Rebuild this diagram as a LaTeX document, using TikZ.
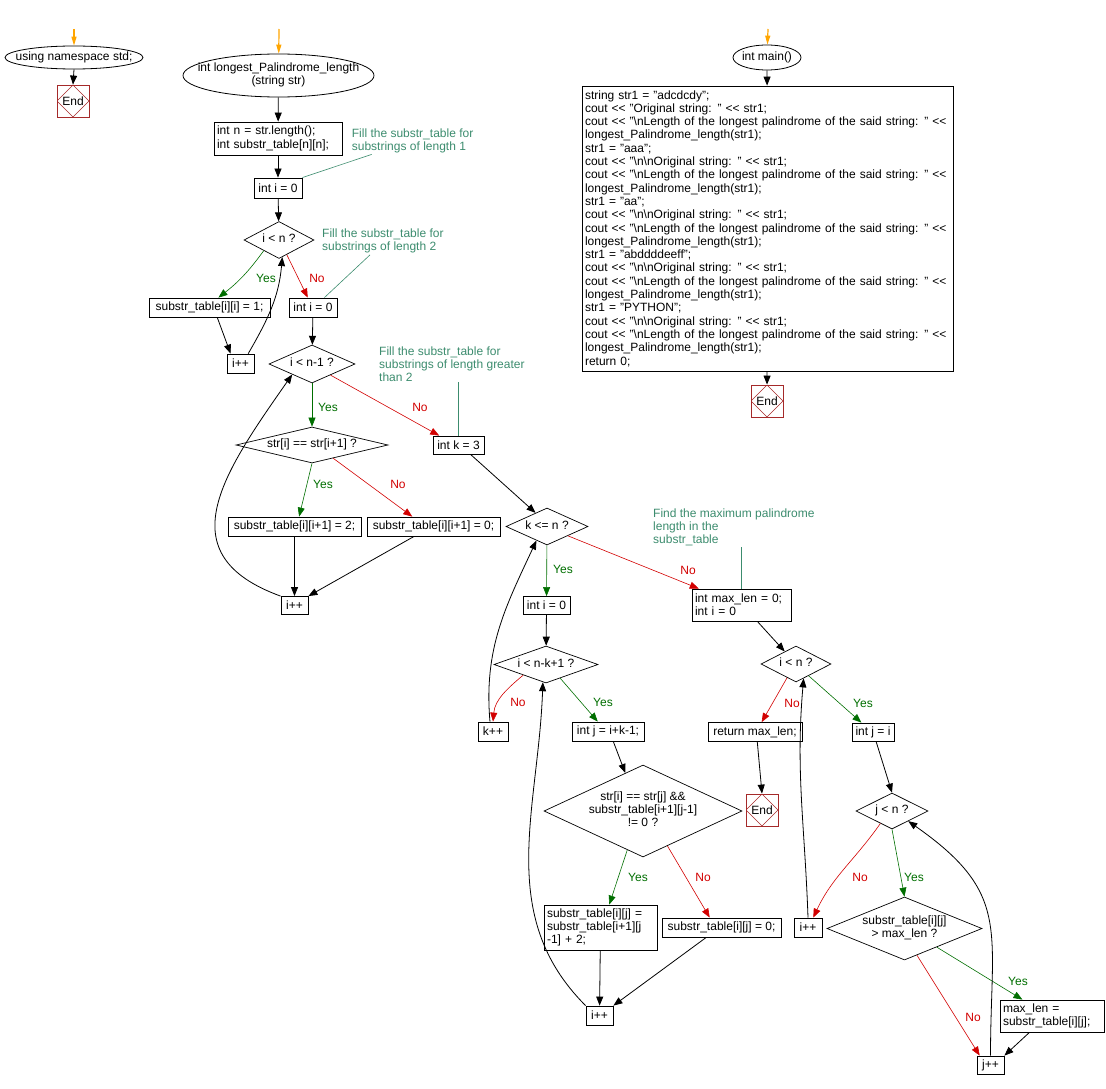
\documentclass[tikz,border=0pt]{standalone}
\usepackage{fontspec}
\setmainfont{Liberation Sans}
\usetikzlibrary{arrows.meta}
\usetikzlibrary{shapes.geometric}

\definecolor{yescol}{RGB}{0,110,0}
\definecolor{nocol}{RGB}{210,0,0}
\definecolor{notecol}{RGB}{60,140,110}
\definecolor{endcol}{RGB}{165,42,42}
\definecolor{entrycol}{RGB}{255,165,0}

\newcommand\flowfont{\fontsize{12}{13.3}\selectfont}
\newcommand\centred[1]{\makebox[0pt]{\begin{tabular}{@{}c@{}}#1\end{tabular}}}
\newcommand\shl{<\kern0pt<}

\begin{document}
\begin{tikzpicture}[x=1pt,y=1pt,
    every node/.style={font=\flowfont},
    box/.style={draw, rectangle, inner sep=0pt, line width=0.8pt, minimum height=19pt},
    textbox/.style={box, inner xsep=3pt, align=left},
    decision/.style={draw, diamond, inner sep=0pt, line width=0.7pt},
    terminal/.style={draw, ellipse, inner sep=0pt, line width=0.8pt},
    endbox/.style={draw=endcol, rectangle, line width=0.8pt, minimum size=32pt, inner sep=0pt,
        path picture={\draw[endcol, line width=0.6pt] (path picture bounding box.north) -- (path picture bounding box.east)
            -- (path picture bounding box.south) -- (path picture bounding box.west) -- cycle;}},
    flow/.style={draw, line width=0.8pt, -{Triangle[length=9pt,width=7pt]}},
    yes/.style={draw=yescol, line width=0.6pt, -{Triangle[length=9pt,width=7pt]}, color=yescol},
    no/.style={draw=nocol, line width=0.6pt, -{Triangle[length=9pt,width=7pt]}, color=nocol},
    entry/.style={draw=entrycol, line width=1.2pt, -{Triangle[length=9pt,width=5pt]}, color=entrycol},
    note/.style={text=notecol, align=left, inner sep=0pt},
    notelink/.style={draw=notecol, line width=0.6pt},
    ylab/.style={text=yescol, inner sep=0pt},
    nlab/.style={text=nocol, inner sep=0pt}]
\useasboundingbox (0,0) rectangle (1106,-1089);

% using namespace
\node[terminal, minimum width=138pt, minimum height=23pt] (ns) at (74,-57.5) {\centred{using namespace std;}};
\node[endbox] (e1) at (73,-101) {End};
\coordinate (s1) at (74,-29);

% longest_Palindrome_length
\node[terminal, minimum width=191pt, minimum height=43pt] (fn) at (278.5,-75.5) {\centred{int longest\_Palindrome\_length\\(string str)}};
\coordinate (s2) at (279,-29);
\node[textbox, text width=122pt, minimum height=33pt] (b1) at (278,-138.5) {int n = str.length();\\int substr\_table[n][n];};
\node[box, minimum width=48pt, minimum height=20pt] (b2) at (278,-188) {int i = 0};
\node[decision, minimum width=70pt, minimum height=37pt] (d1) at (279,-240) {\centred{i < n ?}};
\node[box, minimum width=121pt] (b3) at (209.5,-307.5) {substr\_table[i][i] = 1;};
\node[box, minimum width=27pt] (b4) at (240.5,-363.5) {i++};
\node[box, minimum width=48pt] (b5) at (313,-307.5) {int i = 0};
\node[decision, minimum width=86pt, minimum height=38pt] (d2) at (312,-364) {\centred{i < n-1 ?}};
\node[decision, minimum width=152pt, minimum height=36pt] (d3) at (312,-445) {\centred{str[i] == str[i+1] ?}};
\node[box, minimum width=133pt] (b6) at (294.5,-526.5) {substr\_table[i][i+1] = 2;};
\node[box, minimum width=133pt] (b7) at (433.5,-526.5) {substr\_table[i][i+1] = 0;};
\node[box, minimum width=27pt, minimum height=18pt] (b8) at (294.5,-605.5) {i++};
\node[box, minimum width=51pt, minimum height=18pt] (b9) at (458.5,-445) {int k = 3};
\node[decision, minimum width=82pt, minimum height=37pt] (d4) at (547,-526.5) {\centred{k <= n ?}};
\node[box, minimum width=47pt, minimum height=18pt] (b10) at (546.5,-605.5) {int i = 0};
\node[decision, minimum width=104pt, minimum height=37pt] (d5) at (546,-664.5) {\centred{i < n-k+1 ?}};
\node[box, minimum width=30pt] (b11) at (493,-731.5) {k++};
\node[box, minimum width=72pt] (b12) at (608,-731.5) {int j = i+k-1;};
\node[decision, minimum width=198pt, minimum height=92pt] (d6) at (643,-811) {\centred{str[i] == str[j] \&\&\\substr\_table[i+1][j-1]\\!= 0 ?}};
\node[textbox, text width=107pt, minimum height=45pt] (b13) at (600.5,-927.5) {substr\_table[i][j] =\\substr\_table[i+1][j\\-1] + 2;};
\node[box, minimum width=119pt] (b14) at (721.5,-927.5) {substr\_table[i][j] = 0;};
\node[box, minimum width=27pt] (b15) at (599.5,-1015.5) {i++};
\node[textbox, text width=93pt, minimum height=32pt] (b16) at (741.5,-605) {int max\_len = 0;\\int i = 0};
\node[decision, minimum width=70pt, minimum height=36pt] (d7) at (796,-664) {\centred{i < n ?}};
\node[box, minimum width=94pt] (b17) at (755,-732) {return max\_len;};
\node[endbox] (e2) at (762,-810) {End};
\node[box, minimum width=42pt, minimum height=18pt] (b18) at (873,-732) {int j = i};
\node[decision, minimum width=72pt, minimum height=36pt] (d8) at (892,-811) {\centred{j < n ?}};
\node[box, minimum width=28pt] (b19) at (808,-927.5) {i++};
\node[decision, minimum width=155pt, minimum height=63pt] (d9) at (904.5,-928.5) {\centred{substr\_table[i][j]\\> max\_len ?}};
\node[textbox, text width=98pt, minimum height=32pt] (b20) at (1052,-1016) {max\_len =\\substr\_table[i][j];};
\node[box, minimum width=27pt, minimum height=18pt] (b21) at (990.5,-1065) {j++};

% main
\node[terminal, minimum width=68pt, minimum height=25pt] (mn) at (767,-57.5) {\centred{int main()}};
\coordinate (s3) at (768,-29);
\node[textbox, text width=365pt, minimum height=285pt] (b22) at (767.5,-228.5) {string str1 = "adcdcdy";\\
cout \shl{} "Original string: " \shl{} str1;\\
cout \shl{} "\textbackslash nLength of the longest palindrome of the said string: " \shl\\
longest\_Palindrome\_length(str1);\\
str1 = "aaa";\\
cout \shl{} "\textbackslash n\textbackslash nOriginal string: " \shl{} str1;\\
cout \shl{} "\textbackslash nLength of the longest palindrome of the said string: " \shl\\
longest\_Palindrome\_length(str1);\\
str1 = "aa";\\
cout \shl{} "\textbackslash n\textbackslash nOriginal string: " \shl{} str1;\\
cout \shl{} "\textbackslash nLength of the longest palindrome of the said string: " \shl\\
longest\_Palindrome\_length(str1);\\
str1 = "abddddeeff";\\
cout \shl{} "\textbackslash n\textbackslash nOriginal string: " \shl{} str1;\\
cout \shl{} "\textbackslash nLength of the longest palindrome of the said string: " \shl\\
longest\_Palindrome\_length(str1);\\
str1 = "PYTHON";\\
cout \shl{} "\textbackslash n\textbackslash nOriginal string: " \shl{} str1;\\
cout \shl{} "\textbackslash nLength of the longest palindrome of the said string: " \shl\\
longest\_Palindrome\_length(str1);\\
return 0;};
\node[endbox] (e3) at (767,-401) {End};

% comments
\node[note, anchor=north west] (c1) at (351.7,-128.5) {Fill the substr\_table for\\substrings of length 1};
\node[note, anchor=north west] (c2) at (322,-228.5) {Fill the substr\_table for\\substrings of length 2};
\node[note, anchor=north west] (c3) at (379,-346.5) {Fill the substr\_table for\\substrings of length greater\\than 2};
\node[note, anchor=north west] (c4) at (653,-508.5) {Find the maximum palindrome\\length in the\\substr\_table};

% yes / no labels
\node[ylab] (y1) at (266,-278) {Yes};
\node[nlab] (n1) at (317,-278) {No};
\node[ylab] (y2) at (328,-407) {Yes};
\node[nlab] (n2) at (420,-407) {No};
\node[ylab] (y3) at (323,-484) {Yes};
\node[nlab] (n3) at (398,-484) {No};
\node[ylab] (y4) at (563,-569) {Yes};
\node[nlab] (n4) at (688,-570) {No};
\node[nlab] (n5) at (518,-702) {No};
\node[ylab] (y5) at (603,-702) {Yes};
\node[nlab] (n7) at (792,-703) {No};
\node[ylab] (y7) at (863,-703) {Yes};
\node[ylab] (y6) at (638,-877) {Yes};
\node[nlab] (n6) at (703,-877) {No};
\node[nlab] (n8) at (860,-877) {No};
\node[ylab] (y8) at (914,-877) {Yes};
\node[ylab] (y9) at (1018,-981) {Yes};
\node[nlab] (n9) at (973,-1017) {No};

% connectors
\draw[entry] (s1) -- (ns);
\draw[entry] (s2) -- (fn);
\draw[entry] (s3) -- (mn);
\draw[flow] (ns.south) -- (e1.north);
\draw[flow] (fn) -- (b1);
\draw[flow] (b1) -- (b2);
\draw[flow] (b2) -- (d1);
\draw[yes] (d1.-145) to[bend left=8] (b3.48);
\draw[no] (d1.-62) -- (b5.118);
\draw[flow] (b3.-52) -- (b4.135);
\draw[flow] (b4.52) to[out=60,in=-95] (d1.-79);
\draw[flow] (b5) -- (d2);
\draw[yes] (d2) -- (d3);
\draw[no] (d2.-31) -- (b9.154);
\draw[yes] (d3.south) -- (b6.65);
\draw[no] (d3.-32) -- (b7.155);
\draw[flow] (b6) -- (b8);
\draw[flow] (b7.-153) -- (b8.north east);
\draw[flow] (b8.north west) to[out=160,in=-125,looseness=1.4] (d2.-152);
\draw[flow] (b9.-38) -- (d4.130);
\draw[yes] (d4) -- (b10);
\draw[no] (d4.-24) -- (b16.159);
\draw[flow] (b10) -- (d5);
\draw[no] (d5.-155) to[out=-140,in=85] (b11.north);
\draw[yes] (d5.-44) -- (b12.136);
\draw[flow] (b11.107) to[out=95,in=-115] (d4.-127);
\draw[flow] (b12.-62) -- (d6.115);
\draw[yes] (d6.-112) -- (b13.69);
\draw[no] (d6.-55) -- (b14.140);
\draw[flow] (b13) -- (b15);
\draw[flow] (b14.-147) -- (b15.north east);
\draw[flow] (b15.north west) to[out=135,in=-92] (d5.-100);
\draw[flow] (b16.-46) -- (d7.132);
\draw[no] (d7.-123) -- (b17.56);
\draw[yes] (d7.-43) -- (b18.141);
\draw[flow] (b17.-77) -- (e2.north);
\draw[flow] (b18.-72) -- (d8.north);
\draw[no] (d8.-133) to[out=-125,in=65] (b19.62);
\draw[yes] (d8.south) -- (d9.north);
\draw[flow] (b19.north) to[out=92,in=-95] (d7.-62);
\draw[yes] (d9.-30) -- (b20.151);
\draw[no] (d9.-65) -- (b21.139);
\draw[flow] (b20.-144) -- (b21.north east);
\draw[flow] (b21.north) to[out=90,in=-35,looseness=1.3] (d8.-32);
\draw[flow] (mn) -- (b22);
\draw[flow] (b22) -- (e3);

% comment links
\draw[notelink] (b2.north east) -- ([xshift=20pt,yshift=-1pt]c1.south west);
\draw[notelink] (b5.41) -- ([xshift=48pt,yshift=-1.5pt]c2.south west);
\draw[notelink] (b9.north) -- (b9.north |- c3.south);
\draw[notelink] (b16.north) -- (b16.north |- c4.south);
\end{tikzpicture}
\end{document}
